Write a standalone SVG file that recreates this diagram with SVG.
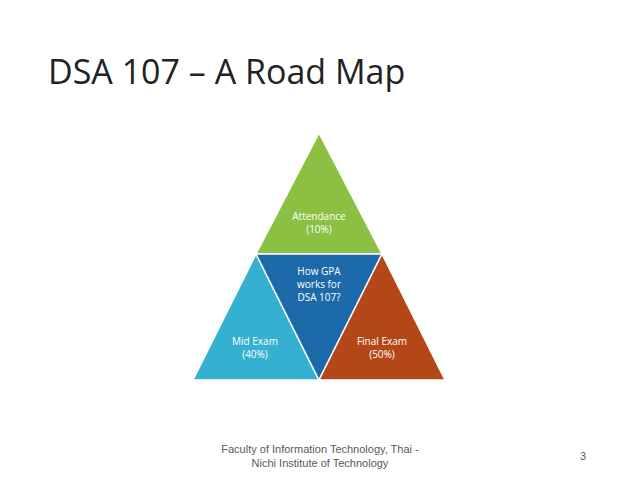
<svg xmlns="http://www.w3.org/2000/svg" width="638" height="478" viewBox="0 0 638 478">
<style>
.t{font-family:"Open Sans","Liberation Sans",sans-serif;font-size:10px;fill:#fff;text-anchor:middle}
.f{font-family:"Liberation Sans",Arial,sans-serif;font-size:11px;fill:#595959;text-anchor:middle}
polygon{stroke:#fff;stroke-width:1.5}
</style>
<rect width="638" height="478" fill="#fff"/>
<text x="48" y="84" font-family="Open Sans, Liberation Sans, sans-serif" font-size="34" fill="#222">DSA 107 – A Road Map</text>
<g id="attendance"><polygon points="319,133 256,254 382,254" fill="#8bc043"/>
<text class="t" x="319" y="220">Attendance</text><text class="t" x="319" y="233">(10%)</text></g>
<g id="mid"><polygon points="256,254 193,380 319,380" fill="#35b0d0"/>
<text class="t" x="255" y="345">Mid Exam</text><text class="t" x="255" y="358">(40%)</text></g>
<g id="center"><polygon points="256,254 382,254 319,380" fill="#1c6aa9"/>
<text class="t" x="319" y="275">How GPA</text><text class="t" x="319" y="288">works for</text><text class="t" x="319" y="301">DSA 107?</text></g>
<g id="final"><polygon points="382,254 319,380 445,380" fill="#b44718"/>
<text class="t" x="382" y="345">Final Exam</text><text class="t" x="382" y="358">(50%)</text></g>
<g id="connectors"></g>
<g id="footer"><text class="f" x="320" y="453">Faculty of Information Technology, Thai -</text>
<text class="f" x="320" y="467">Nichi Institute of Technology</text>
<text class="f" x="583" y="460">3</text></g>
</svg>
